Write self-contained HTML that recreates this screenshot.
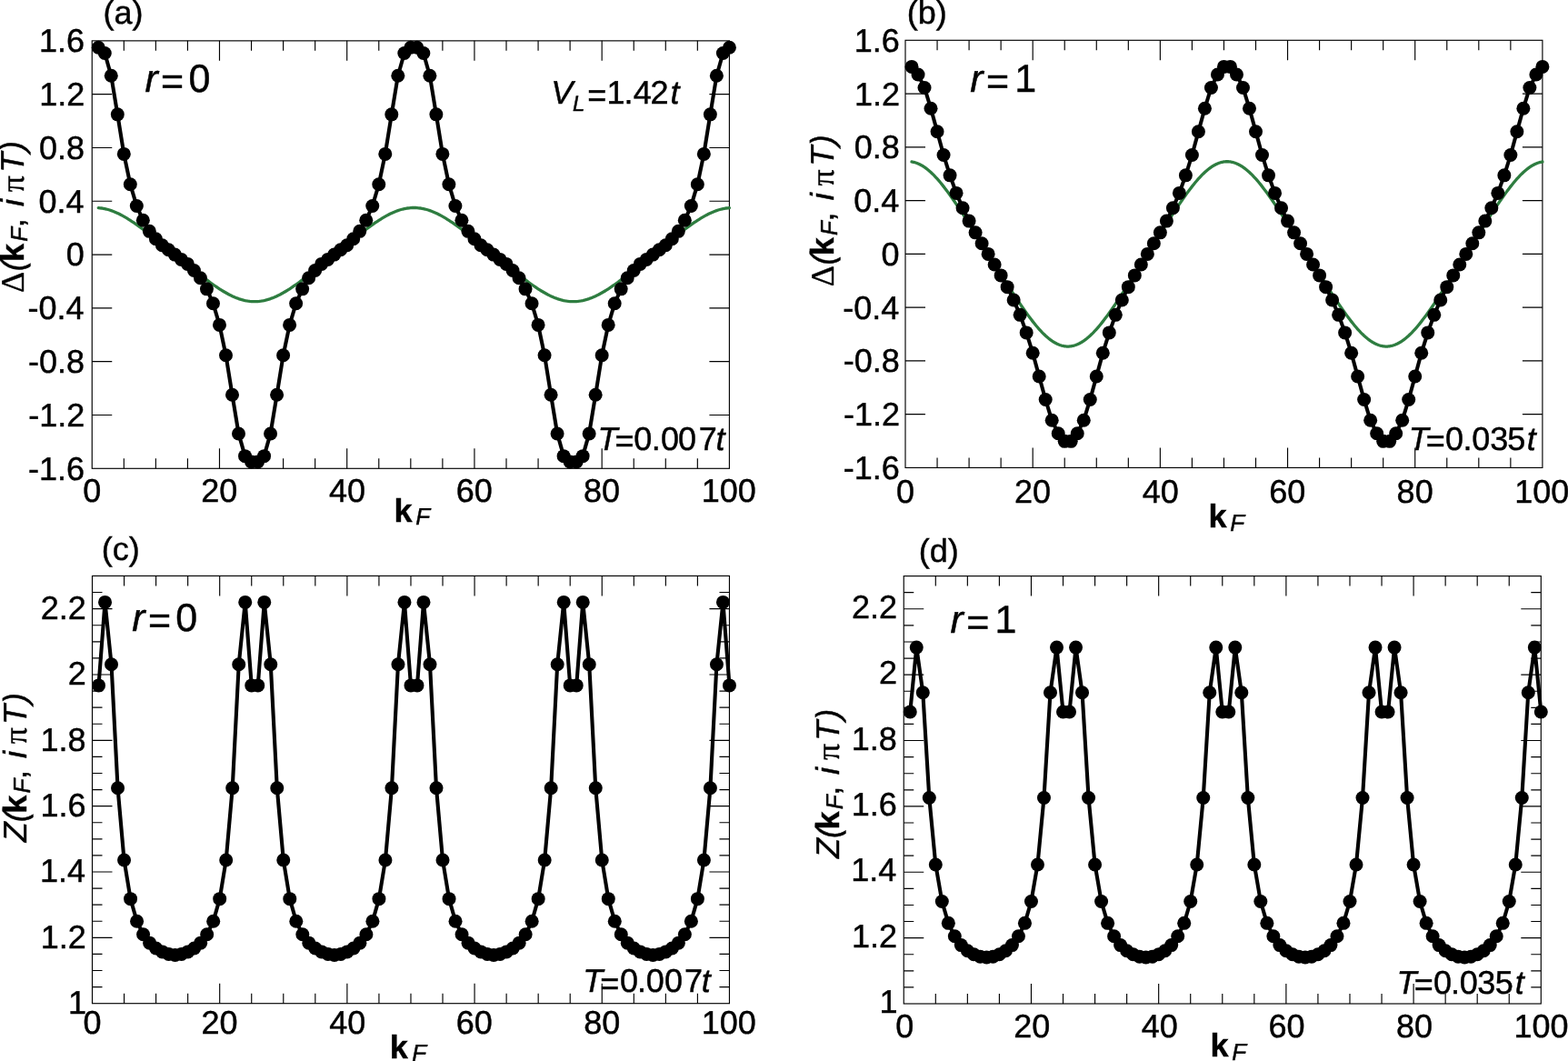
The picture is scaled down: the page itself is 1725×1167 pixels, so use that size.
<!DOCTYPE html>
<html><head><meta charset="utf-8"><title>Gap function and renormalization function along the Fermi surface</title>
<style>html,body{margin:0;padding:0;background:#fff;overflow:hidden;}svg{display:block;}</style></head>
<body><svg width="1725" height="1167" viewBox="0 0 1725 1167" font-family="'Liberation Sans', Arial, Helvetica, sans-serif" text-rendering="geometricPrecision">
<rect width="1725" height="1167" fill="#fff"/>
<rect x="101.25" y="44.87" width="701.15" height="470.43" fill="none" stroke="#000" stroke-width="1.15"/>
<path d="M136.31 515.3v-11M136.31 44.87v11M171.37 515.3v-11M171.37 44.87v11M206.42 515.3v-11M206.42 44.87v11M241.48 515.3v-22M241.48 44.87v22M276.54 515.3v-11M276.54 44.87v11M311.6 515.3v-11M311.6 44.87v11M346.65 515.3v-11M346.65 44.87v11M381.71 515.3v-22M381.71 44.87v22M416.77 515.3v-11M416.77 44.87v11M451.82 515.3v-11M451.82 44.87v11M486.88 515.3v-11M486.88 44.87v11M521.94 515.3v-22M521.94 44.87v22M557 515.3v-11M557 44.87v11M592.06 515.3v-11M592.06 44.87v11M627.11 515.3v-11M627.11 44.87v11M662.17 515.3v-22M662.17 44.87v22M697.23 515.3v-11M697.23 44.87v11M732.28 515.3v-11M732.28 44.87v11M767.34 515.3v-11M767.34 44.87v11M101.25 456.5h22M802.4 456.5h-22M101.25 397.69h22M802.4 397.69h-22M101.25 338.89h22M802.4 338.89h-22M101.25 280.08h22M802.4 280.08h-22M101.25 221.28h22M802.4 221.28h-22M101.25 162.48h22M802.4 162.48h-22M101.25 103.67h22M802.4 103.67h-22" stroke="#000" stroke-width="1.15" fill="none"/>
<polyline points="108.26,228.61 110.01,228.77 111.77,228.99 113.52,229.28 115.27,229.63 117.03,230.03 118.78,230.5 120.53,231.03 122.28,231.61 124.04,232.25 125.79,232.94 127.54,233.69 129.3,234.48 131.05,235.32 132.8,236.21 134.55,237.15 136.31,238.12 138.06,239.14 139.81,240.19 141.57,241.28 143.32,242.4 145.07,243.55 146.82,244.73 148.58,245.94 150.33,247.17 152.08,248.43 153.84,249.7 155.59,250.99 157.34,252.3 159.09,253.63 160.85,254.97 162.6,256.32 164.35,257.68 166.11,259.05 167.86,260.42 169.61,261.81 171.37,263.2 173.12,264.59 174.87,265.99 176.62,267.39 178.38,268.8 180.13,270.2 181.88,271.61 183.64,273.02 185.39,274.43 187.14,275.85 188.89,277.26 190.65,278.67 192.4,280.08 194.15,281.5 195.91,282.91 197.66,284.32 199.41,285.74 201.16,287.15 202.92,288.56 204.67,289.97 206.42,291.37 208.18,292.78 209.93,294.18 211.68,295.58 213.43,296.97 215.19,298.36 216.94,299.75 218.69,301.12 220.45,302.49 222.2,303.85 223.95,305.2 225.7,306.54 227.46,307.87 229.21,309.18 230.96,310.47 232.72,311.74 234.47,313 236.22,314.23 237.97,315.44 239.73,316.62 241.48,317.77 243.23,318.89 244.99,319.98 246.74,321.03 248.49,322.05 250.24,323.02 252,323.96 253.75,324.85 255.5,325.69 257.26,326.48 259.01,327.23 260.76,327.92 262.51,328.56 264.27,329.14 266.02,329.67 267.77,330.14 269.53,330.54 271.28,330.89 273.03,331.18 274.78,331.4 276.54,331.56 278.29,331.65 280.04,331.69 281.8,331.65 283.55,331.56 285.3,331.4 287.05,331.18 288.81,330.89 290.56,330.54 292.31,330.14 294.07,329.67 295.82,329.14 297.57,328.56 299.32,327.92 301.08,327.23 302.83,326.48 304.58,325.69 306.34,324.85 308.09,323.96 309.84,323.02 311.6,322.05 313.35,321.03 315.1,319.98 316.85,318.89 318.61,317.77 320.36,316.62 322.11,315.44 323.87,314.23 325.62,313 327.37,311.74 329.12,310.47 330.88,309.18 332.63,307.87 334.38,306.54 336.14,305.2 337.89,303.85 339.64,302.49 341.39,301.12 343.15,299.75 344.9,298.36 346.65,296.97 348.41,295.58 350.16,294.18 351.91,292.78 353.66,291.37 355.42,289.97 357.17,288.56 358.92,287.15 360.68,285.74 362.43,284.32 364.18,282.91 365.93,281.5 367.69,280.08 369.44,278.67 371.19,277.26 372.95,275.85 374.7,274.43 376.45,273.02 378.2,271.61 379.96,270.2 381.71,268.8 383.46,267.39 385.22,265.99 386.97,264.59 388.72,263.2 390.47,261.81 392.23,260.42 393.98,259.05 395.73,257.68 397.49,256.32 399.24,254.97 400.99,253.63 402.74,252.3 404.5,250.99 406.25,249.7 408,248.43 409.76,247.17 411.51,245.94 413.26,244.73 415.01,243.55 416.77,242.4 418.52,241.28 420.27,240.19 422.03,239.14 423.78,238.12 425.53,237.15 427.28,236.21 429.04,235.32 430.79,234.48 432.54,233.69 434.3,232.94 436.05,232.25 437.8,231.61 439.55,231.03 441.31,230.5 443.06,230.03 444.81,229.63 446.57,229.28 448.32,228.99 450.07,228.77 451.82,228.61 453.58,228.52 455.33,228.48 457.08,228.52 458.84,228.61 460.59,228.77 462.34,228.99 464.1,229.28 465.85,229.63 467.6,230.03 469.35,230.5 471.11,231.03 472.86,231.61 474.61,232.25 476.37,232.94 478.12,233.69 479.87,234.48 481.62,235.32 483.38,236.21 485.13,237.15 486.88,238.12 488.64,239.14 490.39,240.19 492.14,241.28 493.89,242.4 495.65,243.55 497.4,244.73 499.15,245.94 500.91,247.17 502.66,248.43 504.41,249.7 506.16,250.99 507.92,252.3 509.67,253.63 511.42,254.97 513.18,256.32 514.93,257.68 516.68,259.05 518.43,260.42 520.19,261.81 521.94,263.2 523.69,264.59 525.45,265.99 527.2,267.39 528.95,268.8 530.7,270.2 532.46,271.61 534.21,273.02 535.96,274.43 537.72,275.85 539.47,277.26 541.22,278.67 542.97,280.08 544.73,281.5 546.48,282.91 548.23,284.32 549.99,285.74 551.74,287.15 553.49,288.56 555.24,289.97 557,291.37 558.75,292.78 560.5,294.18 562.26,295.58 564.01,296.97 565.76,298.36 567.51,299.75 569.27,301.12 571.02,302.49 572.77,303.85 574.53,305.2 576.28,306.54 578.03,307.87 579.78,309.18 581.54,310.47 583.29,311.74 585.04,313 586.8,314.23 588.55,315.44 590.3,316.62 592.06,317.77 593.81,318.89 595.56,319.98 597.31,321.03 599.07,322.05 600.82,323.02 602.57,323.96 604.33,324.85 606.08,325.69 607.83,326.48 609.58,327.23 611.34,327.92 613.09,328.56 614.84,329.14 616.6,329.67 618.35,330.14 620.1,330.54 621.85,330.89 623.61,331.18 625.36,331.4 627.11,331.56 628.87,331.65 630.62,331.69 632.37,331.65 634.12,331.56 635.88,331.4 637.63,331.18 639.38,330.89 641.14,330.54 642.89,330.14 644.64,329.67 646.39,329.14 648.15,328.56 649.9,327.92 651.65,327.23 653.41,326.48 655.16,325.69 656.91,324.85 658.66,323.96 660.42,323.02 662.17,322.05 663.92,321.03 665.68,319.98 667.43,318.89 669.18,317.77 670.93,316.62 672.69,315.44 674.44,314.23 676.19,313 677.95,311.74 679.7,310.47 681.45,309.18 683.2,307.87 684.96,306.54 686.71,305.2 688.46,303.85 690.22,302.49 691.97,301.12 693.72,299.75 695.47,298.36 697.23,296.97 698.98,295.58 700.73,294.18 702.49,292.78 704.24,291.37 705.99,289.97 707.74,288.56 709.5,287.15 711.25,285.74 713,284.32 714.76,282.91 716.51,281.5 718.26,280.09 720.01,278.67 721.77,277.26 723.52,275.85 725.27,274.43 727.03,273.02 728.78,271.61 730.53,270.2 732.28,268.8 734.04,267.39 735.79,265.99 737.54,264.59 739.3,263.2 741.05,261.81 742.8,260.42 744.56,259.05 746.31,257.68 748.06,256.32 749.81,254.97 751.57,253.63 753.32,252.3 755.07,250.99 756.83,249.7 758.58,248.43 760.33,247.17 762.08,245.94 763.84,244.73 765.59,243.55 767.34,242.4 769.1,241.28 770.85,240.19 772.6,239.14 774.35,238.12 776.11,237.15 777.86,236.21 779.61,235.32 781.37,234.48 783.12,233.69 784.87,232.94 786.62,232.25 788.38,231.61 790.13,231.03 791.88,230.5 793.64,230.03 795.39,229.63 797.14,229.28 798.89,228.99 800.65,228.77 802.4,228.61" fill="none" stroke="#2e7d40" stroke-width="3.3" stroke-linejoin="round" stroke-linecap="round"/>
<polyline points="108.26,52.22 115.27,58.54 122.28,83.24 129.3,125.87 136.31,169.39 143.32,202.76 150.33,226.43 157.34,242.3 164.35,254.36 171.37,262.74 178.38,269.79 185.39,274.79 192.4,280.08 199.41,285.38 206.42,290.38 213.43,297.43 220.45,305.81 227.46,317.87 234.47,333.74 241.48,357.41 248.49,390.78 255.5,434.3 262.51,476.93 269.53,501.63 276.54,507.95 283.55,507.95 290.56,501.63 297.57,476.93 304.58,434.3 311.6,390.78 318.61,357.41 325.62,333.74 332.63,317.87 339.64,305.81 346.65,297.43 353.66,290.38 360.68,285.38 367.69,280.08 374.7,274.79 381.71,269.79 388.72,262.74 395.73,254.36 402.74,242.3 409.76,226.43 416.77,202.76 423.78,169.39 430.79,125.87 437.8,83.24 444.81,58.54 451.82,52.22 458.84,52.22 465.85,58.54 472.86,83.24 479.87,125.87 486.88,169.39 493.89,202.76 500.91,226.43 507.92,242.3 514.93,254.36 521.94,262.74 528.95,269.79 535.96,274.79 542.97,280.08 549.99,285.38 557,290.38 564.01,297.43 571.02,305.81 578.03,317.87 585.04,333.74 592.06,357.41 599.07,390.78 606.08,434.3 613.09,476.93 620.1,501.63 627.11,507.95 634.12,507.95 641.14,501.63 648.15,476.93 655.16,434.3 662.17,390.78 669.18,357.41 676.19,333.74 683.2,317.87 690.22,305.81 697.23,297.43 704.24,290.38 711.25,285.38 718.26,280.08 725.27,274.79 732.28,269.79 739.3,262.74 746.31,254.36 753.32,242.3 760.33,226.43 767.34,202.76 774.35,169.39 781.37,125.87 788.38,83.24 795.39,58.54 802.4,52.22" fill="none" stroke="#000" stroke-width="4.1" stroke-linejoin="round"/>
<g fill="#000"><circle cx="108.26" cy="52.22" r="7.5"/><circle cx="115.27" cy="58.54" r="7.5"/><circle cx="122.28" cy="83.24" r="7.5"/><circle cx="129.3" cy="125.87" r="7.5"/><circle cx="136.31" cy="169.39" r="7.5"/><circle cx="143.32" cy="202.76" r="7.5"/><circle cx="150.33" cy="226.43" r="7.5"/><circle cx="157.34" cy="242.3" r="7.5"/><circle cx="164.35" cy="254.36" r="7.5"/><circle cx="171.37" cy="262.74" r="7.5"/><circle cx="178.38" cy="269.79" r="7.5"/><circle cx="185.39" cy="274.79" r="7.5"/><circle cx="192.4" cy="280.08" r="7.5"/><circle cx="199.41" cy="285.38" r="7.5"/><circle cx="206.42" cy="290.38" r="7.5"/><circle cx="213.43" cy="297.43" r="7.5"/><circle cx="220.45" cy="305.81" r="7.5"/><circle cx="227.46" cy="317.87" r="7.5"/><circle cx="234.47" cy="333.74" r="7.5"/><circle cx="241.48" cy="357.41" r="7.5"/><circle cx="248.49" cy="390.78" r="7.5"/><circle cx="255.5" cy="434.3" r="7.5"/><circle cx="262.51" cy="476.93" r="7.5"/><circle cx="269.53" cy="501.63" r="7.5"/><circle cx="276.54" cy="507.95" r="7.5"/><circle cx="283.55" cy="507.95" r="7.5"/><circle cx="290.56" cy="501.63" r="7.5"/><circle cx="297.57" cy="476.93" r="7.5"/><circle cx="304.58" cy="434.3" r="7.5"/><circle cx="311.6" cy="390.78" r="7.5"/><circle cx="318.61" cy="357.41" r="7.5"/><circle cx="325.62" cy="333.74" r="7.5"/><circle cx="332.63" cy="317.87" r="7.5"/><circle cx="339.64" cy="305.81" r="7.5"/><circle cx="346.65" cy="297.43" r="7.5"/><circle cx="353.66" cy="290.38" r="7.5"/><circle cx="360.68" cy="285.38" r="7.5"/><circle cx="367.69" cy="280.08" r="7.5"/><circle cx="374.7" cy="274.79" r="7.5"/><circle cx="381.71" cy="269.79" r="7.5"/><circle cx="388.72" cy="262.74" r="7.5"/><circle cx="395.73" cy="254.36" r="7.5"/><circle cx="402.74" cy="242.3" r="7.5"/><circle cx="409.76" cy="226.43" r="7.5"/><circle cx="416.77" cy="202.76" r="7.5"/><circle cx="423.78" cy="169.39" r="7.5"/><circle cx="430.79" cy="125.87" r="7.5"/><circle cx="437.8" cy="83.24" r="7.5"/><circle cx="444.81" cy="58.54" r="7.5"/><circle cx="451.82" cy="52.22" r="7.5"/><circle cx="458.84" cy="52.22" r="7.5"/><circle cx="465.85" cy="58.54" r="7.5"/><circle cx="472.86" cy="83.24" r="7.5"/><circle cx="479.87" cy="125.87" r="7.5"/><circle cx="486.88" cy="169.39" r="7.5"/><circle cx="493.89" cy="202.76" r="7.5"/><circle cx="500.91" cy="226.43" r="7.5"/><circle cx="507.92" cy="242.3" r="7.5"/><circle cx="514.93" cy="254.36" r="7.5"/><circle cx="521.94" cy="262.74" r="7.5"/><circle cx="528.95" cy="269.79" r="7.5"/><circle cx="535.96" cy="274.79" r="7.5"/><circle cx="542.97" cy="280.08" r="7.5"/><circle cx="549.99" cy="285.38" r="7.5"/><circle cx="557" cy="290.38" r="7.5"/><circle cx="564.01" cy="297.43" r="7.5"/><circle cx="571.02" cy="305.81" r="7.5"/><circle cx="578.03" cy="317.87" r="7.5"/><circle cx="585.04" cy="333.74" r="7.5"/><circle cx="592.06" cy="357.41" r="7.5"/><circle cx="599.07" cy="390.78" r="7.5"/><circle cx="606.08" cy="434.3" r="7.5"/><circle cx="613.09" cy="476.93" r="7.5"/><circle cx="620.1" cy="501.63" r="7.5"/><circle cx="627.11" cy="507.95" r="7.5"/><circle cx="634.12" cy="507.95" r="7.5"/><circle cx="641.14" cy="501.63" r="7.5"/><circle cx="648.15" cy="476.93" r="7.5"/><circle cx="655.16" cy="434.3" r="7.5"/><circle cx="662.17" cy="390.78" r="7.5"/><circle cx="669.18" cy="357.41" r="7.5"/><circle cx="676.19" cy="333.74" r="7.5"/><circle cx="683.2" cy="317.87" r="7.5"/><circle cx="690.22" cy="305.81" r="7.5"/><circle cx="697.23" cy="297.43" r="7.5"/><circle cx="704.24" cy="290.38" r="7.5"/><circle cx="711.25" cy="285.38" r="7.5"/><circle cx="718.26" cy="280.08" r="7.5"/><circle cx="725.27" cy="274.79" r="7.5"/><circle cx="732.28" cy="269.79" r="7.5"/><circle cx="739.3" cy="262.74" r="7.5"/><circle cx="746.31" cy="254.36" r="7.5"/><circle cx="753.32" cy="242.3" r="7.5"/><circle cx="760.33" cy="226.43" r="7.5"/><circle cx="767.34" cy="202.76" r="7.5"/><circle cx="774.35" cy="169.39" r="7.5"/><circle cx="781.37" cy="125.87" r="7.5"/><circle cx="788.38" cy="83.24" r="7.5"/><circle cx="795.39" cy="58.54" r="7.5"/><circle cx="802.4" cy="52.22" r="7.5"/></g>
<rect x="996" y="44.3" width="700.9" height="470.15" fill="none" stroke="#000" stroke-width="1.15"/>
<path d="M1031.05 514.45v-11M1031.05 44.3v11M1066.09 514.45v-11M1066.09 44.3v11M1101.13 514.45v-11M1101.13 44.3v11M1136.18 514.45v-22M1136.18 44.3v22M1171.22 514.45v-11M1171.22 44.3v11M1206.27 514.45v-11M1206.27 44.3v11M1241.32 514.45v-11M1241.32 44.3v11M1276.36 514.45v-22M1276.36 44.3v22M1311.4 514.45v-11M1311.4 44.3v11M1346.45 514.45v-11M1346.45 44.3v11M1381.5 514.45v-11M1381.5 44.3v11M1416.54 514.45v-22M1416.54 44.3v22M1451.59 514.45v-11M1451.59 44.3v11M1486.63 514.45v-11M1486.63 44.3v11M1521.68 514.45v-11M1521.68 44.3v11M1556.72 514.45v-22M1556.72 44.3v22M1591.77 514.45v-11M1591.77 44.3v11M1626.81 514.45v-11M1626.81 44.3v11M1661.86 514.45v-11M1661.86 44.3v11M996 455.68h22M1696.9 455.68h-22M996 396.91h22M1696.9 396.91h-22M996 338.14h22M1696.9 338.14h-22M996 279.38h22M1696.9 279.38h-22M996 220.61h22M1696.9 220.61h-22M996 161.84h22M1696.9 161.84h-22M996 103.07h22M1696.9 103.07h-22" stroke="#000" stroke-width="1.15" fill="none"/>
<polyline points="1003.01,177.96 1004.76,178.27 1006.51,178.71 1008.27,179.27 1010.02,179.96 1011.77,180.76 1013.52,181.68 1015.27,182.72 1017.03,183.87 1018.78,185.12 1020.53,186.49 1022.28,187.96 1024.04,189.52 1025.79,191.18 1027.54,192.93 1029.29,194.77 1031.05,196.7 1032.8,198.7 1034.55,200.77 1036.3,202.91 1038.05,205.12 1039.81,207.39 1041.56,209.72 1043.31,212.1 1045.06,214.52 1046.82,216.99 1048.57,219.51 1050.32,222.05 1052.07,224.63 1053.82,227.24 1055.58,229.88 1057.33,232.54 1059.08,235.22 1060.83,237.92 1062.59,240.63 1064.34,243.36 1066.09,246.1 1067.84,248.85 1069.59,251.6 1071.35,254.37 1073.1,257.13 1074.85,259.91 1076.6,262.68 1078.36,265.46 1080.11,268.24 1081.86,271.02 1083.61,273.81 1085.36,276.59 1087.12,279.38 1088.87,282.16 1090.62,284.94 1092.37,287.73 1094.13,290.51 1095.88,293.29 1097.63,296.07 1099.38,298.84 1101.13,301.62 1102.89,304.38 1104.64,307.15 1106.39,309.9 1108.14,312.65 1109.9,315.39 1111.65,318.12 1113.4,320.83 1115.15,323.53 1116.91,326.21 1118.66,328.87 1120.41,331.51 1122.16,334.12 1123.91,336.7 1125.67,339.24 1127.42,341.76 1129.17,344.23 1130.92,346.65 1132.68,349.03 1134.43,351.36 1136.18,353.63 1137.93,355.84 1139.68,357.98 1141.44,360.05 1143.19,362.05 1144.94,363.98 1146.69,365.82 1148.45,367.57 1150.2,369.23 1151.95,370.79 1153.7,372.26 1155.45,373.63 1157.21,374.88 1158.96,376.03 1160.71,377.07 1162.46,377.99 1164.22,378.79 1165.97,379.48 1167.72,380.04 1169.47,380.48 1171.22,380.79 1172.98,380.98 1174.73,381.04 1176.48,380.98 1178.23,380.79 1179.99,380.48 1181.74,380.04 1183.49,379.48 1185.24,378.79 1187,377.99 1188.75,377.07 1190.5,376.03 1192.25,374.88 1194,373.63 1195.76,372.26 1197.51,370.79 1199.26,369.23 1201.01,367.57 1202.77,365.82 1204.52,363.98 1206.27,362.05 1208.02,360.05 1209.77,357.98 1211.53,355.84 1213.28,353.63 1215.03,351.36 1216.78,349.03 1218.54,346.65 1220.29,344.23 1222.04,341.76 1223.79,339.24 1225.54,336.7 1227.3,334.12 1229.05,331.51 1230.8,328.87 1232.55,326.21 1234.31,323.53 1236.06,320.83 1237.81,318.12 1239.56,315.39 1241.32,312.65 1243.07,309.9 1244.82,307.15 1246.57,304.38 1248.32,301.62 1250.08,298.84 1251.83,296.07 1253.58,293.29 1255.33,290.51 1257.09,287.73 1258.84,284.94 1260.59,282.16 1262.34,279.38 1264.09,276.59 1265.85,273.81 1267.6,271.02 1269.35,268.24 1271.1,265.46 1272.86,262.68 1274.61,259.91 1276.36,257.13 1278.11,254.37 1279.86,251.6 1281.62,248.85 1283.37,246.1 1285.12,243.36 1286.87,240.63 1288.63,237.92 1290.38,235.22 1292.13,232.54 1293.88,229.88 1295.63,227.24 1297.39,224.63 1299.14,222.05 1300.89,219.51 1302.64,216.99 1304.4,214.52 1306.15,212.1 1307.9,209.72 1309.65,207.39 1311.4,205.12 1313.16,202.91 1314.91,200.77 1316.66,198.7 1318.41,196.7 1320.17,194.77 1321.92,192.93 1323.67,191.18 1325.42,189.52 1327.18,187.96 1328.93,186.49 1330.68,185.12 1332.43,183.87 1334.18,182.72 1335.94,181.68 1337.69,180.76 1339.44,179.96 1341.19,179.27 1342.95,178.71 1344.7,178.27 1346.45,177.96 1348.2,177.77 1349.95,177.71 1351.71,177.77 1353.46,177.96 1355.21,178.27 1356.96,178.71 1358.72,179.27 1360.47,179.96 1362.22,180.76 1363.97,181.68 1365.72,182.72 1367.48,183.87 1369.23,185.12 1370.98,186.49 1372.73,187.96 1374.49,189.52 1376.24,191.18 1377.99,192.93 1379.74,194.77 1381.5,196.7 1383.25,198.7 1385,200.77 1386.75,202.91 1388.5,205.12 1390.26,207.39 1392.01,209.72 1393.76,212.1 1395.51,214.52 1397.27,216.99 1399.02,219.51 1400.77,222.05 1402.52,224.63 1404.27,227.24 1406.03,229.88 1407.78,232.54 1409.53,235.22 1411.28,237.92 1413.04,240.63 1414.79,243.36 1416.54,246.1 1418.29,248.85 1420.04,251.6 1421.8,254.37 1423.55,257.13 1425.3,259.91 1427.05,262.68 1428.81,265.46 1430.56,268.24 1432.31,271.02 1434.06,273.81 1435.81,276.59 1437.57,279.37 1439.32,282.16 1441.07,284.94 1442.82,287.73 1444.58,290.51 1446.33,293.29 1448.08,296.07 1449.83,298.84 1451.59,301.62 1453.34,304.38 1455.09,307.15 1456.84,309.9 1458.59,312.65 1460.35,315.39 1462.1,318.12 1463.85,320.83 1465.6,323.53 1467.36,326.21 1469.11,328.87 1470.86,331.51 1472.61,334.12 1474.36,336.7 1476.12,339.24 1477.87,341.76 1479.62,344.23 1481.37,346.65 1483.13,349.03 1484.88,351.36 1486.63,353.63 1488.38,355.84 1490.13,357.98 1491.89,360.05 1493.64,362.05 1495.39,363.98 1497.14,365.82 1498.9,367.57 1500.65,369.23 1502.4,370.79 1504.15,372.26 1505.9,373.63 1507.66,374.88 1509.41,376.03 1511.16,377.07 1512.91,377.99 1514.67,378.79 1516.42,379.48 1518.17,380.04 1519.92,380.48 1521.68,380.79 1523.43,380.98 1525.18,381.04 1526.93,380.98 1528.68,380.79 1530.44,380.48 1532.19,380.04 1533.94,379.48 1535.69,378.79 1537.45,377.99 1539.2,377.07 1540.95,376.03 1542.7,374.88 1544.45,373.63 1546.21,372.26 1547.96,370.79 1549.71,369.23 1551.46,367.57 1553.22,365.82 1554.97,363.98 1556.72,362.05 1558.47,360.05 1560.22,357.98 1561.98,355.84 1563.73,353.63 1565.48,351.36 1567.23,349.03 1568.99,346.65 1570.74,344.23 1572.49,341.76 1574.24,339.24 1575.99,336.7 1577.75,334.12 1579.5,331.51 1581.25,328.87 1583,326.21 1584.76,323.53 1586.51,320.83 1588.26,318.12 1590.01,315.39 1591.77,312.65 1593.52,309.9 1595.27,307.15 1597.02,304.38 1598.77,301.62 1600.53,298.84 1602.28,296.07 1604.03,293.29 1605.78,290.51 1607.54,287.73 1609.29,284.94 1611.04,282.16 1612.79,279.38 1614.54,276.59 1616.3,273.81 1618.05,271.02 1619.8,268.24 1621.55,265.46 1623.31,262.68 1625.06,259.91 1626.81,257.13 1628.56,254.37 1630.31,251.6 1632.07,248.85 1633.82,246.1 1635.57,243.36 1637.32,240.63 1639.08,237.92 1640.83,235.22 1642.58,232.54 1644.33,229.88 1646.08,227.24 1647.84,224.63 1649.59,222.05 1651.34,219.51 1653.09,216.99 1654.85,214.52 1656.6,212.1 1658.35,209.72 1660.1,207.39 1661.86,205.12 1663.61,202.91 1665.36,200.77 1667.11,198.7 1668.86,196.7 1670.62,194.77 1672.37,192.93 1674.12,191.18 1675.87,189.52 1677.63,187.96 1679.38,186.49 1681.13,185.12 1682.88,183.87 1684.63,182.72 1686.39,181.68 1688.14,180.76 1689.89,179.96 1691.64,179.27 1693.4,178.71 1695.15,178.27 1696.9,177.96" fill="none" stroke="#2e7d40" stroke-width="3.3" stroke-linejoin="round" stroke-linecap="round"/>
<polyline points="1003.01,73.39 1010.02,82.06 1017.03,96.46 1024.04,119.23 1031.05,144.79 1038.05,170.51 1045.06,192.84 1052.07,212.38 1059.08,228.69 1066.09,243.09 1073.1,255.87 1080.11,267.77 1087.12,279.38 1094.13,290.98 1101.13,302.88 1108.14,315.66 1115.15,330.06 1122.16,346.37 1129.17,365.91 1136.18,388.24 1143.19,413.96 1150.2,439.52 1157.21,462.29 1164.22,476.69 1171.22,485.36 1178.23,485.36 1185.24,476.69 1192.25,462.29 1199.26,439.52 1206.27,413.96 1213.28,388.24 1220.29,365.91 1227.3,346.37 1234.31,330.06 1241.32,315.66 1248.32,302.88 1255.33,290.98 1262.34,279.38 1269.35,267.77 1276.36,255.87 1283.37,243.09 1290.38,228.69 1297.39,212.38 1304.4,192.84 1311.4,170.51 1318.41,144.79 1325.42,119.23 1332.43,96.46 1339.44,82.06 1346.45,73.39 1353.46,73.39 1360.47,82.06 1367.48,96.46 1374.49,119.23 1381.5,144.79 1388.5,170.51 1395.51,192.84 1402.52,212.38 1409.53,228.69 1416.54,243.09 1423.55,255.87 1430.56,267.77 1437.57,279.38 1444.58,290.98 1451.59,302.88 1458.59,315.66 1465.6,330.06 1472.61,346.37 1479.62,365.91 1486.63,388.24 1493.64,413.96 1500.65,439.52 1507.66,462.29 1514.67,476.69 1521.68,485.36 1528.68,485.36 1535.69,476.69 1542.7,462.29 1549.71,439.52 1556.72,413.96 1563.73,388.24 1570.74,365.91 1577.75,346.37 1584.76,330.06 1591.77,315.66 1598.77,302.88 1605.78,290.98 1612.79,279.38 1619.8,267.77 1626.81,255.87 1633.82,243.09 1640.83,228.69 1647.84,212.38 1654.85,192.84 1661.86,170.51 1668.86,144.79 1675.87,119.23 1682.88,96.46 1689.89,82.06 1696.9,73.39" fill="none" stroke="#000" stroke-width="4.1" stroke-linejoin="round"/>
<g fill="#000"><circle cx="1003.01" cy="73.39" r="7.5"/><circle cx="1010.02" cy="82.06" r="7.5"/><circle cx="1017.03" cy="96.46" r="7.5"/><circle cx="1024.04" cy="119.23" r="7.5"/><circle cx="1031.05" cy="144.79" r="7.5"/><circle cx="1038.05" cy="170.51" r="7.5"/><circle cx="1045.06" cy="192.84" r="7.5"/><circle cx="1052.07" cy="212.38" r="7.5"/><circle cx="1059.08" cy="228.69" r="7.5"/><circle cx="1066.09" cy="243.09" r="7.5"/><circle cx="1073.1" cy="255.87" r="7.5"/><circle cx="1080.11" cy="267.77" r="7.5"/><circle cx="1087.12" cy="279.38" r="7.5"/><circle cx="1094.13" cy="290.98" r="7.5"/><circle cx="1101.13" cy="302.88" r="7.5"/><circle cx="1108.14" cy="315.66" r="7.5"/><circle cx="1115.15" cy="330.06" r="7.5"/><circle cx="1122.16" cy="346.37" r="7.5"/><circle cx="1129.17" cy="365.91" r="7.5"/><circle cx="1136.18" cy="388.24" r="7.5"/><circle cx="1143.19" cy="413.96" r="7.5"/><circle cx="1150.2" cy="439.52" r="7.5"/><circle cx="1157.21" cy="462.29" r="7.5"/><circle cx="1164.22" cy="476.69" r="7.5"/><circle cx="1171.22" cy="485.36" r="7.5"/><circle cx="1178.23" cy="485.36" r="7.5"/><circle cx="1185.24" cy="476.69" r="7.5"/><circle cx="1192.25" cy="462.29" r="7.5"/><circle cx="1199.26" cy="439.52" r="7.5"/><circle cx="1206.27" cy="413.96" r="7.5"/><circle cx="1213.28" cy="388.24" r="7.5"/><circle cx="1220.29" cy="365.91" r="7.5"/><circle cx="1227.3" cy="346.37" r="7.5"/><circle cx="1234.31" cy="330.06" r="7.5"/><circle cx="1241.32" cy="315.66" r="7.5"/><circle cx="1248.32" cy="302.88" r="7.5"/><circle cx="1255.33" cy="290.98" r="7.5"/><circle cx="1262.34" cy="279.38" r="7.5"/><circle cx="1269.35" cy="267.77" r="7.5"/><circle cx="1276.36" cy="255.87" r="7.5"/><circle cx="1283.37" cy="243.09" r="7.5"/><circle cx="1290.38" cy="228.69" r="7.5"/><circle cx="1297.39" cy="212.38" r="7.5"/><circle cx="1304.4" cy="192.84" r="7.5"/><circle cx="1311.4" cy="170.51" r="7.5"/><circle cx="1318.41" cy="144.79" r="7.5"/><circle cx="1325.42" cy="119.23" r="7.5"/><circle cx="1332.43" cy="96.46" r="7.5"/><circle cx="1339.44" cy="82.06" r="7.5"/><circle cx="1346.45" cy="73.39" r="7.5"/><circle cx="1353.46" cy="73.39" r="7.5"/><circle cx="1360.47" cy="82.06" r="7.5"/><circle cx="1367.48" cy="96.46" r="7.5"/><circle cx="1374.49" cy="119.23" r="7.5"/><circle cx="1381.5" cy="144.79" r="7.5"/><circle cx="1388.5" cy="170.51" r="7.5"/><circle cx="1395.51" cy="192.84" r="7.5"/><circle cx="1402.52" cy="212.38" r="7.5"/><circle cx="1409.53" cy="228.69" r="7.5"/><circle cx="1416.54" cy="243.09" r="7.5"/><circle cx="1423.55" cy="255.87" r="7.5"/><circle cx="1430.56" cy="267.77" r="7.5"/><circle cx="1437.57" cy="279.38" r="7.5"/><circle cx="1444.58" cy="290.98" r="7.5"/><circle cx="1451.59" cy="302.88" r="7.5"/><circle cx="1458.59" cy="315.66" r="7.5"/><circle cx="1465.6" cy="330.06" r="7.5"/><circle cx="1472.61" cy="346.37" r="7.5"/><circle cx="1479.62" cy="365.91" r="7.5"/><circle cx="1486.63" cy="388.24" r="7.5"/><circle cx="1493.64" cy="413.96" r="7.5"/><circle cx="1500.65" cy="439.52" r="7.5"/><circle cx="1507.66" cy="462.29" r="7.5"/><circle cx="1514.67" cy="476.69" r="7.5"/><circle cx="1521.68" cy="485.36" r="7.5"/><circle cx="1528.68" cy="485.36" r="7.5"/><circle cx="1535.69" cy="476.69" r="7.5"/><circle cx="1542.7" cy="462.29" r="7.5"/><circle cx="1549.71" cy="439.52" r="7.5"/><circle cx="1556.72" cy="413.96" r="7.5"/><circle cx="1563.73" cy="388.24" r="7.5"/><circle cx="1570.74" cy="365.91" r="7.5"/><circle cx="1577.75" cy="346.37" r="7.5"/><circle cx="1584.76" cy="330.06" r="7.5"/><circle cx="1591.77" cy="315.66" r="7.5"/><circle cx="1598.77" cy="302.88" r="7.5"/><circle cx="1605.78" cy="290.98" r="7.5"/><circle cx="1612.79" cy="279.38" r="7.5"/><circle cx="1619.8" cy="267.77" r="7.5"/><circle cx="1626.81" cy="255.87" r="7.5"/><circle cx="1633.82" cy="243.09" r="7.5"/><circle cx="1640.83" cy="228.69" r="7.5"/><circle cx="1647.84" cy="212.38" r="7.5"/><circle cx="1654.85" cy="192.84" r="7.5"/><circle cx="1661.86" cy="170.51" r="7.5"/><circle cx="1668.86" cy="144.79" r="7.5"/><circle cx="1675.87" cy="119.23" r="7.5"/><circle cx="1682.88" cy="96.46" r="7.5"/><circle cx="1689.89" cy="82.06" r="7.5"/><circle cx="1696.9" cy="73.39" r="7.5"/></g>
<rect x="101.5" y="633.45" width="700.95" height="470.25" fill="none" stroke="#000" stroke-width="1.15"/>
<path d="M136.55 1103.7v-11M136.55 633.45v11M171.59 1103.7v-11M171.59 633.45v11M206.64 1103.7v-11M206.64 633.45v11M241.69 1103.7v-22M241.69 633.45v22M276.74 1103.7v-11M276.74 633.45v11M311.78 1103.7v-11M311.78 633.45v11M346.83 1103.7v-11M346.83 633.45v11M381.88 1103.7v-22M381.88 633.45v22M416.93 1103.7v-11M416.93 633.45v11M451.98 1103.7v-11M451.98 633.45v11M487.02 1103.7v-11M487.02 633.45v11M522.07 1103.7v-22M522.07 633.45v22M557.12 1103.7v-11M557.12 633.45v11M592.16 1103.7v-11M592.16 633.45v11M627.21 1103.7v-11M627.21 633.45v11M662.26 1103.7v-22M662.26 633.45v22M697.31 1103.7v-11M697.31 633.45v11M732.36 1103.7v-11M732.36 633.45v11M767.4 1103.7v-11M767.4 633.45v11M101.5 1085.61h11M802.45 1085.61h-11M101.5 1067.53h11M802.45 1067.53h-11M101.5 1049.44h11M802.45 1049.44h-11M101.5 1031.35h22M802.45 1031.35h-22M101.5 1013.27h11M802.45 1013.27h-11M101.5 995.18h11M802.45 995.18h-11M101.5 977.09h11M802.45 977.09h-11M101.5 959.01h22M802.45 959.01h-22M101.5 940.92h11M802.45 940.92h-11M101.5 922.83h11M802.45 922.83h-11M101.5 904.75h11M802.45 904.75h-11M101.5 886.66h22M802.45 886.66h-22M101.5 868.58h11M802.45 868.58h-11M101.5 850.49h11M802.45 850.49h-11M101.5 832.4h11M802.45 832.4h-11M101.5 814.32h22M802.45 814.32h-22M101.5 796.23h11M802.45 796.23h-11M101.5 778.14h11M802.45 778.14h-11M101.5 760.06h11M802.45 760.06h-11M101.5 741.97h22M802.45 741.97h-22M101.5 723.88h11M802.45 723.88h-11M101.5 705.8h11M802.45 705.8h-11M101.5 687.71h11M802.45 687.71h-11M101.5 669.62h22M802.45 669.62h-22M101.5 651.54h11M802.45 651.54h-11" stroke="#000" stroke-width="1.15" fill="none"/>
<polyline points="108.51,753.91 115.52,662.39 122.53,730.76 129.54,866.77 136.55,945.99 143.56,988.67 150.57,1013.27 157.58,1027.74 164.59,1037.14 171.59,1042.93 178.6,1046.91 185.61,1049.44 192.62,1050.53 199.63,1049.44 206.64,1046.91 213.65,1042.93 220.66,1037.14 227.67,1027.74 234.68,1013.27 241.69,988.67 248.7,945.99 255.71,866.77 262.72,730.76 269.73,662.39 276.74,753.91 283.75,753.91 290.76,662.39 297.77,730.76 304.78,866.77 311.78,945.99 318.79,988.67 325.8,1013.27 332.81,1027.74 339.82,1037.14 346.83,1042.93 353.84,1046.91 360.85,1049.44 367.86,1050.53 374.87,1049.44 381.88,1046.91 388.89,1042.93 395.9,1037.14 402.91,1027.74 409.92,1013.27 416.93,988.67 423.94,945.99 430.95,866.77 437.96,730.76 444.97,662.39 451.98,753.91 458.98,753.91 465.99,662.39 473,730.76 480.01,866.77 487.02,945.99 494.03,988.67 501.04,1013.27 508.05,1027.74 515.06,1037.14 522.07,1042.93 529.08,1046.91 536.09,1049.44 543.1,1050.53 550.11,1049.44 557.12,1046.91 564.13,1042.93 571.14,1037.14 578.15,1027.74 585.16,1013.27 592.16,988.67 599.17,945.99 606.18,866.77 613.19,730.76 620.2,662.39 627.21,753.91 634.22,753.91 641.23,662.39 648.24,730.76 655.25,866.77 662.26,945.99 669.27,988.67 676.28,1013.27 683.29,1027.74 690.3,1037.14 697.31,1042.93 704.32,1046.91 711.33,1049.44 718.34,1050.53 725.35,1049.44 732.36,1046.91 739.36,1042.93 746.37,1037.14 753.38,1027.74 760.39,1013.27 767.4,988.67 774.41,945.99 781.42,866.77 788.43,730.76 795.44,662.39 802.45,753.91" fill="none" stroke="#000" stroke-width="4.1" stroke-linejoin="round"/>
<g fill="#000"><circle cx="108.51" cy="753.91" r="7.5"/><circle cx="115.52" cy="662.39" r="7.5"/><circle cx="122.53" cy="730.76" r="7.5"/><circle cx="129.54" cy="866.77" r="7.5"/><circle cx="136.55" cy="945.99" r="7.5"/><circle cx="143.56" cy="988.67" r="7.5"/><circle cx="150.57" cy="1013.27" r="7.5"/><circle cx="157.58" cy="1027.74" r="7.5"/><circle cx="164.59" cy="1037.14" r="7.5"/><circle cx="171.59" cy="1042.93" r="7.5"/><circle cx="178.6" cy="1046.91" r="7.5"/><circle cx="185.61" cy="1049.44" r="7.5"/><circle cx="192.62" cy="1050.53" r="7.5"/><circle cx="199.63" cy="1049.44" r="7.5"/><circle cx="206.64" cy="1046.91" r="7.5"/><circle cx="213.65" cy="1042.93" r="7.5"/><circle cx="220.66" cy="1037.14" r="7.5"/><circle cx="227.67" cy="1027.74" r="7.5"/><circle cx="234.68" cy="1013.27" r="7.5"/><circle cx="241.69" cy="988.67" r="7.5"/><circle cx="248.7" cy="945.99" r="7.5"/><circle cx="255.71" cy="866.77" r="7.5"/><circle cx="262.72" cy="730.76" r="7.5"/><circle cx="269.73" cy="662.39" r="7.5"/><circle cx="276.74" cy="753.91" r="7.5"/><circle cx="283.75" cy="753.91" r="7.5"/><circle cx="290.76" cy="662.39" r="7.5"/><circle cx="297.77" cy="730.76" r="7.5"/><circle cx="304.78" cy="866.77" r="7.5"/><circle cx="311.78" cy="945.99" r="7.5"/><circle cx="318.79" cy="988.67" r="7.5"/><circle cx="325.8" cy="1013.27" r="7.5"/><circle cx="332.81" cy="1027.74" r="7.5"/><circle cx="339.82" cy="1037.14" r="7.5"/><circle cx="346.83" cy="1042.93" r="7.5"/><circle cx="353.84" cy="1046.91" r="7.5"/><circle cx="360.85" cy="1049.44" r="7.5"/><circle cx="367.86" cy="1050.53" r="7.5"/><circle cx="374.87" cy="1049.44" r="7.5"/><circle cx="381.88" cy="1046.91" r="7.5"/><circle cx="388.89" cy="1042.93" r="7.5"/><circle cx="395.9" cy="1037.14" r="7.5"/><circle cx="402.91" cy="1027.74" r="7.5"/><circle cx="409.92" cy="1013.27" r="7.5"/><circle cx="416.93" cy="988.67" r="7.5"/><circle cx="423.94" cy="945.99" r="7.5"/><circle cx="430.95" cy="866.77" r="7.5"/><circle cx="437.96" cy="730.76" r="7.5"/><circle cx="444.97" cy="662.39" r="7.5"/><circle cx="451.98" cy="753.91" r="7.5"/><circle cx="458.98" cy="753.91" r="7.5"/><circle cx="465.99" cy="662.39" r="7.5"/><circle cx="473" cy="730.76" r="7.5"/><circle cx="480.01" cy="866.77" r="7.5"/><circle cx="487.02" cy="945.99" r="7.5"/><circle cx="494.03" cy="988.67" r="7.5"/><circle cx="501.04" cy="1013.27" r="7.5"/><circle cx="508.05" cy="1027.74" r="7.5"/><circle cx="515.06" cy="1037.14" r="7.5"/><circle cx="522.07" cy="1042.93" r="7.5"/><circle cx="529.08" cy="1046.91" r="7.5"/><circle cx="536.09" cy="1049.44" r="7.5"/><circle cx="543.1" cy="1050.53" r="7.5"/><circle cx="550.11" cy="1049.44" r="7.5"/><circle cx="557.12" cy="1046.91" r="7.5"/><circle cx="564.13" cy="1042.93" r="7.5"/><circle cx="571.14" cy="1037.14" r="7.5"/><circle cx="578.15" cy="1027.74" r="7.5"/><circle cx="585.16" cy="1013.27" r="7.5"/><circle cx="592.16" cy="988.67" r="7.5"/><circle cx="599.17" cy="945.99" r="7.5"/><circle cx="606.18" cy="866.77" r="7.5"/><circle cx="613.19" cy="730.76" r="7.5"/><circle cx="620.2" cy="662.39" r="7.5"/><circle cx="627.21" cy="753.91" r="7.5"/><circle cx="634.22" cy="753.91" r="7.5"/><circle cx="641.23" cy="662.39" r="7.5"/><circle cx="648.24" cy="730.76" r="7.5"/><circle cx="655.25" cy="866.77" r="7.5"/><circle cx="662.26" cy="945.99" r="7.5"/><circle cx="669.27" cy="988.67" r="7.5"/><circle cx="676.28" cy="1013.27" r="7.5"/><circle cx="683.29" cy="1027.74" r="7.5"/><circle cx="690.3" cy="1037.14" r="7.5"/><circle cx="697.31" cy="1042.93" r="7.5"/><circle cx="704.32" cy="1046.91" r="7.5"/><circle cx="711.33" cy="1049.44" r="7.5"/><circle cx="718.34" cy="1050.53" r="7.5"/><circle cx="725.35" cy="1049.44" r="7.5"/><circle cx="732.36" cy="1046.91" r="7.5"/><circle cx="739.36" cy="1042.93" r="7.5"/><circle cx="746.37" cy="1037.14" r="7.5"/><circle cx="753.38" cy="1027.74" r="7.5"/><circle cx="760.39" cy="1013.27" r="7.5"/><circle cx="767.4" cy="988.67" r="7.5"/><circle cx="774.41" cy="945.99" r="7.5"/><circle cx="781.42" cy="866.77" r="7.5"/><circle cx="788.43" cy="730.76" r="7.5"/><circle cx="795.44" cy="662.39" r="7.5"/><circle cx="802.45" cy="753.91" r="7.5"/></g>
<rect x="994.25" y="633.6" width="701.05" height="470.4" fill="none" stroke="#000" stroke-width="1.15"/>
<path d="M1029.3 1104v-11M1029.3 633.6v11M1064.36 1104v-11M1064.36 633.6v11M1099.41 1104v-11M1099.41 633.6v11M1134.46 1104v-22M1134.46 633.6v22M1169.51 1104v-11M1169.51 633.6v11M1204.57 1104v-11M1204.57 633.6v11M1239.62 1104v-11M1239.62 633.6v11M1274.67 1104v-22M1274.67 633.6v22M1309.72 1104v-11M1309.72 633.6v11M1344.78 1104v-11M1344.78 633.6v11M1379.83 1104v-11M1379.83 633.6v11M1414.88 1104v-22M1414.88 633.6v22M1449.93 1104v-11M1449.93 633.6v11M1484.99 1104v-11M1484.99 633.6v11M1520.04 1104v-11M1520.04 633.6v11M1555.09 1104v-22M1555.09 633.6v22M1590.14 1104v-11M1590.14 633.6v11M1625.19 1104v-11M1625.19 633.6v11M1660.25 1104v-11M1660.25 633.6v11M994.25 1085.91h11M1695.3 1085.91h-11M994.25 1067.82h11M1695.3 1067.82h-11M994.25 1049.72h11M1695.3 1049.72h-11M994.25 1031.63h22M1695.3 1031.63h-22M994.25 1013.54h11M1695.3 1013.54h-11M994.25 995.45h11M1695.3 995.45h-11M994.25 977.35h11M1695.3 977.35h-11M994.25 959.26h22M1695.3 959.26h-22M994.25 941.17h11M1695.3 941.17h-11M994.25 923.08h11M1695.3 923.08h-11M994.25 904.98h11M1695.3 904.98h-11M994.25 886.89h22M1695.3 886.89h-22M994.25 868.8h11M1695.3 868.8h-11M994.25 850.71h11M1695.3 850.71h-11M994.25 832.62h11M1695.3 832.62h-11M994.25 814.52h22M1695.3 814.52h-22M994.25 796.43h11M1695.3 796.43h-11M994.25 778.34h11M1695.3 778.34h-11M994.25 760.25h11M1695.3 760.25h-11M994.25 742.15h22M1695.3 742.15h-22M994.25 724.06h11M1695.3 724.06h-11M994.25 705.97h11M1695.3 705.97h-11M994.25 687.88h11M1695.3 687.88h-11M994.25 669.78h22M1695.3 669.78h-22M994.25 651.69h11M1695.3 651.69h-11" stroke="#000" stroke-width="1.15" fill="none"/>
<polyline points="1001.26,783.04 1008.27,712.12 1015.28,761.69 1022.29,877.48 1029.3,950.94 1036.31,991.47 1043.32,1015.35 1050.33,1029.82 1057.34,1039.59 1064.36,1045.74 1071.37,1049.72 1078.38,1052.26 1085.39,1052.98 1092.4,1052.26 1099.41,1049.72 1106.42,1045.74 1113.43,1039.59 1120.44,1029.82 1127.45,1015.35 1134.46,991.47 1141.47,950.94 1148.48,877.48 1155.49,761.69 1162.5,712.12 1169.51,783.04 1176.52,783.04 1183.53,712.12 1190.54,761.69 1197.55,877.48 1204.57,950.94 1211.58,991.47 1218.59,1015.35 1225.6,1029.82 1232.61,1039.59 1239.62,1045.74 1246.63,1049.72 1253.64,1052.26 1260.65,1052.98 1267.66,1052.26 1274.67,1049.72 1281.68,1045.74 1288.69,1039.59 1295.7,1029.82 1302.71,1015.35 1309.72,991.47 1316.73,950.94 1323.74,877.48 1330.75,761.69 1337.76,712.12 1344.78,783.04 1351.79,783.04 1358.8,712.12 1365.81,761.69 1372.82,877.48 1379.83,950.94 1386.84,991.47 1393.85,1015.35 1400.86,1029.82 1407.87,1039.59 1414.88,1045.74 1421.89,1049.72 1428.9,1052.26 1435.91,1052.98 1442.92,1052.26 1449.93,1049.72 1456.94,1045.74 1463.95,1039.59 1470.96,1029.82 1477.97,1015.35 1484.99,991.47 1492,950.94 1499.01,877.48 1506.02,761.69 1513.03,712.12 1520.04,783.04 1527.05,783.04 1534.06,712.12 1541.07,761.69 1548.08,877.48 1555.09,950.94 1562.1,991.47 1569.11,1015.35 1576.12,1029.82 1583.13,1039.59 1590.14,1045.74 1597.15,1049.72 1604.16,1052.26 1611.17,1052.98 1618.18,1052.26 1625.19,1049.72 1632.21,1045.74 1639.22,1039.59 1646.23,1029.82 1653.24,1015.35 1660.25,991.47 1667.26,950.94 1674.27,877.48 1681.28,761.69 1688.29,712.12 1695.3,783.04" fill="none" stroke="#000" stroke-width="4.1" stroke-linejoin="round"/>
<g fill="#000"><circle cx="1001.26" cy="783.04" r="7.5"/><circle cx="1008.27" cy="712.12" r="7.5"/><circle cx="1015.28" cy="761.69" r="7.5"/><circle cx="1022.29" cy="877.48" r="7.5"/><circle cx="1029.3" cy="950.94" r="7.5"/><circle cx="1036.31" cy="991.47" r="7.5"/><circle cx="1043.32" cy="1015.35" r="7.5"/><circle cx="1050.33" cy="1029.82" r="7.5"/><circle cx="1057.34" cy="1039.59" r="7.5"/><circle cx="1064.36" cy="1045.74" r="7.5"/><circle cx="1071.37" cy="1049.72" r="7.5"/><circle cx="1078.38" cy="1052.26" r="7.5"/><circle cx="1085.39" cy="1052.98" r="7.5"/><circle cx="1092.4" cy="1052.26" r="7.5"/><circle cx="1099.41" cy="1049.72" r="7.5"/><circle cx="1106.42" cy="1045.74" r="7.5"/><circle cx="1113.43" cy="1039.59" r="7.5"/><circle cx="1120.44" cy="1029.82" r="7.5"/><circle cx="1127.45" cy="1015.35" r="7.5"/><circle cx="1134.46" cy="991.47" r="7.5"/><circle cx="1141.47" cy="950.94" r="7.5"/><circle cx="1148.48" cy="877.48" r="7.5"/><circle cx="1155.49" cy="761.69" r="7.5"/><circle cx="1162.5" cy="712.12" r="7.5"/><circle cx="1169.51" cy="783.04" r="7.5"/><circle cx="1176.52" cy="783.04" r="7.5"/><circle cx="1183.53" cy="712.12" r="7.5"/><circle cx="1190.54" cy="761.69" r="7.5"/><circle cx="1197.55" cy="877.48" r="7.5"/><circle cx="1204.57" cy="950.94" r="7.5"/><circle cx="1211.58" cy="991.47" r="7.5"/><circle cx="1218.59" cy="1015.35" r="7.5"/><circle cx="1225.6" cy="1029.82" r="7.5"/><circle cx="1232.61" cy="1039.59" r="7.5"/><circle cx="1239.62" cy="1045.74" r="7.5"/><circle cx="1246.63" cy="1049.72" r="7.5"/><circle cx="1253.64" cy="1052.26" r="7.5"/><circle cx="1260.65" cy="1052.98" r="7.5"/><circle cx="1267.66" cy="1052.26" r="7.5"/><circle cx="1274.67" cy="1049.72" r="7.5"/><circle cx="1281.68" cy="1045.74" r="7.5"/><circle cx="1288.69" cy="1039.59" r="7.5"/><circle cx="1295.7" cy="1029.82" r="7.5"/><circle cx="1302.71" cy="1015.35" r="7.5"/><circle cx="1309.72" cy="991.47" r="7.5"/><circle cx="1316.73" cy="950.94" r="7.5"/><circle cx="1323.74" cy="877.48" r="7.5"/><circle cx="1330.75" cy="761.69" r="7.5"/><circle cx="1337.76" cy="712.12" r="7.5"/><circle cx="1344.78" cy="783.04" r="7.5"/><circle cx="1351.79" cy="783.04" r="7.5"/><circle cx="1358.8" cy="712.12" r="7.5"/><circle cx="1365.81" cy="761.69" r="7.5"/><circle cx="1372.82" cy="877.48" r="7.5"/><circle cx="1379.83" cy="950.94" r="7.5"/><circle cx="1386.84" cy="991.47" r="7.5"/><circle cx="1393.85" cy="1015.35" r="7.5"/><circle cx="1400.86" cy="1029.82" r="7.5"/><circle cx="1407.87" cy="1039.59" r="7.5"/><circle cx="1414.88" cy="1045.74" r="7.5"/><circle cx="1421.89" cy="1049.72" r="7.5"/><circle cx="1428.9" cy="1052.26" r="7.5"/><circle cx="1435.91" cy="1052.98" r="7.5"/><circle cx="1442.92" cy="1052.26" r="7.5"/><circle cx="1449.93" cy="1049.72" r="7.5"/><circle cx="1456.94" cy="1045.74" r="7.5"/><circle cx="1463.95" cy="1039.59" r="7.5"/><circle cx="1470.96" cy="1029.82" r="7.5"/><circle cx="1477.97" cy="1015.35" r="7.5"/><circle cx="1484.99" cy="991.47" r="7.5"/><circle cx="1492" cy="950.94" r="7.5"/><circle cx="1499.01" cy="877.48" r="7.5"/><circle cx="1506.02" cy="761.69" r="7.5"/><circle cx="1513.03" cy="712.12" r="7.5"/><circle cx="1520.04" cy="783.04" r="7.5"/><circle cx="1527.05" cy="783.04" r="7.5"/><circle cx="1534.06" cy="712.12" r="7.5"/><circle cx="1541.07" cy="761.69" r="7.5"/><circle cx="1548.08" cy="877.48" r="7.5"/><circle cx="1555.09" cy="950.94" r="7.5"/><circle cx="1562.1" cy="991.47" r="7.5"/><circle cx="1569.11" cy="1015.35" r="7.5"/><circle cx="1576.12" cy="1029.82" r="7.5"/><circle cx="1583.13" cy="1039.59" r="7.5"/><circle cx="1590.14" cy="1045.74" r="7.5"/><circle cx="1597.15" cy="1049.72" r="7.5"/><circle cx="1604.16" cy="1052.26" r="7.5"/><circle cx="1611.17" cy="1052.98" r="7.5"/><circle cx="1618.18" cy="1052.26" r="7.5"/><circle cx="1625.19" cy="1049.72" r="7.5"/><circle cx="1632.21" cy="1045.74" r="7.5"/><circle cx="1639.22" cy="1039.59" r="7.5"/><circle cx="1646.23" cy="1029.82" r="7.5"/><circle cx="1653.24" cy="1015.35" r="7.5"/><circle cx="1660.25" cy="991.47" r="7.5"/><circle cx="1667.26" cy="950.94" r="7.5"/><circle cx="1674.27" cy="877.48" r="7.5"/><circle cx="1681.28" cy="761.69" r="7.5"/><circle cx="1688.29" cy="712.12" r="7.5"/><circle cx="1695.3" cy="783.04" r="7.5"/></g>
<text fill="#000" stroke="#000" stroke-width="0.45"><tspan x="91.24" y="552.4" font-size="36">0</tspan><tspan x="221.26" y="552.4" font-size="36">20</tspan><tspan x="361.98" y="552.4" font-size="36">40</tspan><tspan x="501.71" y="552.4" font-size="36">60</tspan><tspan x="642.07" y="552.4" font-size="36">80</tspan><tspan x="771.7" y="552.4" font-size="36">100</tspan><tspan x="30.95" y="527.6" font-size="36">-1.6</tspan><tspan x="31.18" y="468.8" font-size="36">-1.2</tspan><tspan x="30.93" y="409.99" font-size="36">-0.8</tspan><tspan x="30.42" y="351.19" font-size="36">-0.4</tspan><tspan x="72.78" y="292.38" font-size="36">0</tspan><tspan x="42.41" y="233.58" font-size="36">0.4</tspan><tspan x="42.92" y="174.78" font-size="36">0.8</tspan><tspan x="43.17" y="115.97" font-size="36">1.2</tspan><tspan x="42.94" y="57.17" font-size="36">1.6</tspan><tspan x="985.99" y="552.8" font-size="36">0</tspan><tspan x="1115.96" y="552.8" font-size="36">20</tspan><tspan x="1256.63" y="552.8" font-size="36">40</tspan><tspan x="1396.31" y="552.8" font-size="36">60</tspan><tspan x="1536.62" y="552.8" font-size="36">80</tspan><tspan x="1666.2" y="552.8" font-size="36">100</tspan><tspan x="927.75" y="526.95" font-size="36">-1.6</tspan><tspan x="927.98" y="468.18" font-size="36">-1.2</tspan><tspan x="927.73" y="409.41" font-size="36">-0.8</tspan><tspan x="927.22" y="350.64" font-size="36">-0.4</tspan><tspan x="969.58" y="291.88" font-size="36">0</tspan><tspan x="939.21" y="233.11" font-size="36">0.4</tspan><tspan x="939.72" y="174.34" font-size="36">0.8</tspan><tspan x="939.97" y="115.57" font-size="36">1.2</tspan><tspan x="939.74" y="56.8" font-size="36">1.6</tspan><tspan x="91.49" y="1136.7" font-size="36">0</tspan><tspan x="221.47" y="1136.7" font-size="36">20</tspan><tspan x="362.15" y="1136.7" font-size="36">40</tspan><tspan x="501.84" y="1136.7" font-size="36">60</tspan><tspan x="642.16" y="1136.7" font-size="36">80</tspan><tspan x="771.75" y="1136.7" font-size="36">100</tspan><tspan x="74.97" y="1114.9" font-size="36">1</tspan><tspan x="44.77" y="1042.55" font-size="36">1.2</tspan><tspan x="44.01" y="970.21" font-size="36">1.4</tspan><tspan x="44.54" y="897.86" font-size="36">1.6</tspan><tspan x="44.52" y="825.52" font-size="36">1.8</tspan><tspan x="74.79" y="753.17" font-size="36">2</tspan><tspan x="44.77" y="680.82" font-size="36">2.2</tspan><tspan x="985.14" y="1141.3" font-size="36">0</tspan><tspan x="1115.14" y="1141.3" font-size="36">20</tspan><tspan x="1255.84" y="1141.3" font-size="36">40</tspan><tspan x="1395.55" y="1141.3" font-size="36">60</tspan><tspan x="1535.89" y="1141.3" font-size="36">80</tspan><tspan x="1665.5" y="1141.3" font-size="36">100</tspan><tspan x="967.57" y="1114.2" font-size="36">1</tspan><tspan x="936.97" y="1041.83" font-size="36">1.2</tspan><tspan x="936.21" y="969.46" font-size="36">1.4</tspan><tspan x="936.74" y="897.09" font-size="36">1.6</tspan><tspan x="936.72" y="824.72" font-size="36">1.8</tspan><tspan x="966.99" y="752.35" font-size="36">2</tspan><tspan x="936.97" y="679.98" font-size="36">2.2</tspan><tspan x="113.57" y="26.4" font-size="36">(a)</tspan><tspan x="997.87" y="25.5" font-size="36">(b)</tspan><tspan x="111.67" y="616" font-size="36">(c)</tspan><tspan x="1010.67" y="618.1" font-size="36">(d)</tspan><tspan x="433.39" y="573.6" font-weight="bold" font-size="36">k</tspan><tspan x="457.3" y="577.3" font-style="italic" font-size="26">F</tspan><tspan x="1329.49" y="579.9" font-weight="bold" font-size="36">k</tspan><tspan x="1353.3" y="583.8" font-style="italic" font-size="26">F</tspan><tspan x="428.69" y="1163.5" font-weight="bold" font-size="36">k</tspan><tspan x="453.2" y="1167" font-style="italic" font-size="26">F</tspan><tspan x="1331.39" y="1162.3" font-weight="bold" font-size="36">k</tspan><tspan x="1355.3" y="1165.8" font-style="italic" font-size="26">F</tspan><tspan x="159.39" y="100.9" font-style="italic" font-size="43">r</tspan><tspan x="176.9" y="104.2" font-size="43">=</tspan><tspan x="207.42" y="100.9" font-size="43">0</tspan><tspan x="1067.29" y="100.9" font-style="italic" font-size="43">r</tspan><tspan x="1085.1" y="104.2" font-size="43">=</tspan><tspan x="1116.29" y="100.9" font-size="43">1</tspan><tspan x="145.29" y="693.9" font-style="italic" font-size="43">r</tspan><tspan x="163" y="697.2" font-size="43">=</tspan><tspan x="193.32" y="693.9" font-size="43">0</tspan><tspan x="1045.59" y="695.6" font-style="italic" font-size="43">r</tspan><tspan x="1063.3" y="698.9" font-size="43">=</tspan><tspan x="1094.59" y="695.6" font-size="43">1</tspan><tspan x="606.19" y="114.3" font-style="italic" font-size="36">V</tspan><tspan x="629.96" y="122.2" font-style="italic" font-size="24">L</tspan><tspan x="646.14" y="116.9" font-size="36">=</tspan><tspan x="686.41" y="114.3" font-size="36">.</tspan><tspan x="696.67" y="114.3" font-size="36">4</tspan><tspan x="715.49" y="114.3" font-size="36">2</tspan><tspan x="667.47" y="114.3" font-size="36">1</tspan><tspan x="737.57" y="114.3" font-style="italic" font-size="36">t</tspan><tspan x="657.47" y="494.5" font-style="italic" font-size="36">T</tspan><tspan x="676.54" y="496.9" font-size="36">=</tspan><tspan x="697.29" y="494.5" font-size="36">0</tspan><tspan x="716.71" y="494.5" font-size="36">.</tspan><tspan x="726.99" y="494.5" font-size="36">0</tspan><tspan x="745.99" y="494.5" font-size="36">0</tspan><tspan x="768.75" y="494.5" font-size="36">7</tspan><tspan x="787.47" y="494.5" font-style="italic" font-size="36">t</tspan><tspan x="1549.77" y="495" font-style="italic" font-size="36">T</tspan><tspan x="1568.84" y="497.4" font-size="36">=</tspan><tspan x="1590.09" y="495" font-size="36">0</tspan><tspan x="1609.51" y="495" font-size="36">.</tspan><tspan x="1619.29" y="495" font-size="36">0</tspan><tspan x="1639.23" y="495" font-size="36">3</tspan><tspan x="1658.26" y="495" font-size="36">5</tspan><tspan x="1679.87" y="495" font-style="italic" font-size="36">t</tspan><tspan x="641.17" y="1091.3" font-style="italic" font-size="36">T</tspan><tspan x="660.24" y="1093.7" font-size="36">=</tspan><tspan x="681.89" y="1091.3" font-size="36">0</tspan><tspan x="700.91" y="1091.3" font-size="36">.</tspan><tspan x="710.69" y="1091.3" font-size="36">0</tspan><tspan x="731.09" y="1091.3" font-size="36">0</tspan><tspan x="752.95" y="1091.3" font-size="36">7</tspan><tspan x="771.67" y="1091.3" font-style="italic" font-size="36">t</tspan><tspan x="1536.57" y="1092.6" font-style="italic" font-size="36">T</tspan><tspan x="1555.74" y="1095" font-size="36">=</tspan><tspan x="1576.89" y="1092.6" font-size="36">0</tspan><tspan x="1595.91" y="1092.6" font-size="36">.</tspan><tspan x="1605.69" y="1092.6" font-size="36">0</tspan><tspan x="1625.23" y="1092.6" font-size="36">3</tspan><tspan x="1644.66" y="1092.6" font-size="36">5</tspan><tspan x="1666.67" y="1092.6" font-style="italic" font-size="36">t</tspan></text>
<g fill="#000" stroke="#000" stroke-width="0.45"><text transform="translate(25.7,0) rotate(-90)"><tspan x="-322.07" y="0" font-family="'Liberation Serif', 'Times New Roman', serif" font-size="36">Δ</tspan><tspan x="-298.19" y="0" font-style="italic" font-size="36">(</tspan><tspan x="-288.01" y="0" font-weight="bold" font-size="36">k</tspan><tspan x="-265.8" y="3.8" font-style="italic" font-size="26">F</tspan><tspan x="-250.23" y="0" font-size="36">,</tspan><tspan x="-227.08" y="0" font-style="italic" font-size="36">i</tspan><tspan x="-211.29" y="0" font-family="'Liberation Serif', 'Times New Roman', serif" font-size="36">π</tspan><tspan x="-189.63" y="0" font-style="italic" font-size="36">T</tspan><tspan x="-167.1" y="0" font-style="italic" font-size="36">)</tspan></text>
<text transform="translate(917,0) rotate(-90)"><tspan x="-315.27" y="0" font-family="'Liberation Serif', 'Times New Roman', serif" font-size="36">Δ</tspan><tspan x="-291.39" y="0" font-style="italic" font-size="36">(</tspan><tspan x="-281.21" y="0" font-weight="bold" font-size="36">k</tspan><tspan x="-259" y="3.8" font-style="italic" font-size="26">F</tspan><tspan x="-243.43" y="0" font-size="36">,</tspan><tspan x="-220.28" y="0" font-style="italic" font-size="36">i</tspan><tspan x="-204.49" y="0" font-family="'Liberation Serif', 'Times New Roman', serif" font-size="36">π</tspan><tspan x="-182.83" y="0" font-style="italic" font-size="36">T</tspan><tspan x="-160.3" y="0" font-style="italic" font-size="36">)</tspan></text>
<text transform="translate(29.1,0) rotate(-90)"><tspan x="-926.2" y="0" font-style="italic" font-size="36">Z</tspan><tspan x="-904.19" y="0" font-style="italic" font-size="36">(</tspan><tspan x="-894.71" y="0" font-weight="bold" font-size="36">k</tspan><tspan x="-872.5" y="3.8" font-style="italic" font-size="26">F</tspan><tspan x="-856.93" y="0" font-size="36">,</tspan><tspan x="-834.08" y="0" font-style="italic" font-size="36">i</tspan><tspan x="-818.19" y="0" font-family="'Liberation Serif', 'Times New Roman', serif" font-size="36">π</tspan><tspan x="-796.93" y="0" font-style="italic" font-size="36">T</tspan><tspan x="-773.9" y="0" font-style="italic" font-size="36">)</tspan></text>
<text transform="translate(923.4,0) rotate(-90)"><tspan x="-944" y="0" font-style="italic" font-size="36">Z</tspan><tspan x="-921.99" y="0" font-style="italic" font-size="36">(</tspan><tspan x="-912.51" y="0" font-weight="bold" font-size="36">k</tspan><tspan x="-890.3" y="3.8" font-style="italic" font-size="26">F</tspan><tspan x="-874.73" y="0" font-size="36">,</tspan><tspan x="-851.88" y="0" font-style="italic" font-size="36">i</tspan><tspan x="-835.99" y="0" font-family="'Liberation Serif', 'Times New Roman', serif" font-size="36">π</tspan><tspan x="-814.73" y="0" font-style="italic" font-size="36">T</tspan><tspan x="-791.7" y="0" font-style="italic" font-size="36">)</tspan></text></g>
</svg></body></html>
